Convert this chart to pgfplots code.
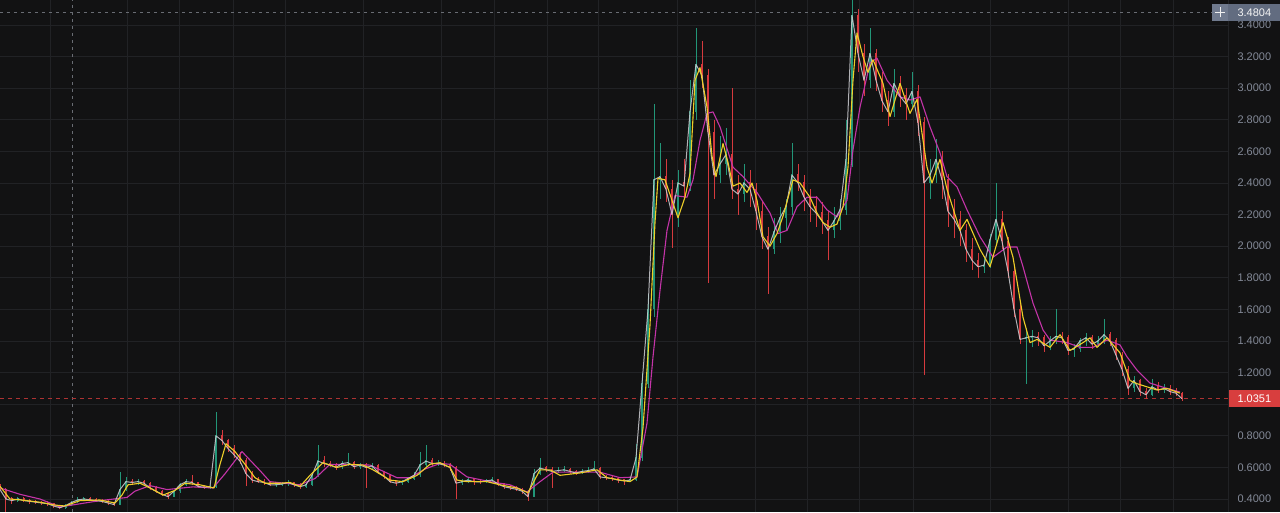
\documentclass[border=0pt]{standalone}
\usepackage{pgfplots}
\pgfplotsset{compat=1.18}
\usepackage{pgfplotstable}
\usepackage{fontspec}
\setmainfont{Liberation Sans}

\definecolor{bgc}{RGB}{18,18,19}
\definecolor{gridc}{RGB}{33,34,37}
\definecolor{upc}{RGB}{34,150,120}
\definecolor{dnc}{RGB}{214,58,62}
\definecolor{ticklab}{RGB}{132,138,152}
\definecolor{maw}{RGB}{205,205,210}
\definecolor{may}{RGB}{238,206,40}
\definecolor{mam}{RGB}{196,52,168}
\definecolor{crossc}{RGB}{105,108,115}
\definecolor{xboxc}{RGB}{98,108,128}
\definecolor{xplusc}{RGB}{112,122,142}
\definecolor{lastc}{RGB}{216,62,62}

% x = pixel column of the candle, o h l c = price
\pgfplotstableread{
x o h l c
0 0.49 0.50 0.45 0.46
6 0.46 0.47 0.32 0.40
12 0.40 0.41 0.37 0.39
18 0.39 0.41 0.38 0.40
24 0.40 0.41 0.38 0.39
30 0.39 0.40 0.37 0.385
36 0.385 0.395 0.37 0.38
42 0.38 0.39 0.365 0.375
48 0.375 0.385 0.355 0.37
54 0.37 0.375 0.345 0.355
60 0.355 0.36 0.335 0.345
66 0.345 0.37 0.34 0.36
72 0.36 0.39 0.355 0.38
78 0.38 0.41 0.375 0.395
84 0.395 0.415 0.385 0.40
90 0.40 0.41 0.385 0.395
96 0.395 0.405 0.38 0.39
102 0.39 0.40 0.375 0.385
108 0.385 0.395 0.365 0.375
114 0.375 0.38 0.355 0.365
120 0.365 0.57 0.36 0.46
126 0.46 0.54 0.45 0.51
132 0.51 0.53 0.49 0.505
138 0.505 0.53 0.49 0.51
144 0.51 0.52 0.485 0.50
150 0.50 0.51 0.46 0.47
156 0.47 0.48 0.44 0.45
162 0.45 0.46 0.42 0.43
168 0.43 0.44 0.40 0.415
174 0.415 0.46 0.41 0.45
180 0.45 0.50 0.44 0.49
186 0.49 0.53 0.48 0.51
192 0.51 0.55 0.49 0.505
198 0.505 0.51 0.47 0.48
204 0.48 0.49 0.465 0.475
210 0.475 0.49 0.465 0.478
216 0.478 0.95 0.47 0.80
222 0.80 0.84 0.74 0.77
228 0.77 0.78 0.70 0.72
234 0.72 0.74 0.66 0.68
240 0.68 0.70 0.62 0.64
246 0.64 0.66 0.48 0.56
252 0.56 0.58 0.50 0.52
258 0.52 0.54 0.50 0.51
264 0.51 0.53 0.49 0.505
270 0.505 0.51 0.48 0.49
276 0.49 0.505 0.475 0.49
282 0.49 0.51 0.48 0.495
288 0.495 0.52 0.485 0.505
294 0.505 0.51 0.475 0.49
300 0.49 0.50 0.465 0.478
306 0.478 0.50 0.47 0.49
312 0.49 0.57 0.485 0.55
318 0.55 0.74 0.54 0.64
324 0.64 0.67 0.60 0.625
330 0.625 0.64 0.60 0.615
336 0.615 0.63 0.585 0.60
342 0.60 0.64 0.59 0.625
348 0.625 0.69 0.61 0.63
354 0.63 0.64 0.59 0.605
360 0.605 0.63 0.59 0.615
366 0.615 0.63 0.47 0.60
372 0.60 0.63 0.59 0.61
378 0.61 0.62 0.56 0.57
384 0.57 0.58 0.53 0.545
390 0.545 0.55 0.50 0.51
396 0.51 0.52 0.485 0.50
402 0.50 0.52 0.49 0.51
408 0.51 0.54 0.50 0.53
414 0.53 0.57 0.52 0.55
420 0.55 0.70 0.54 0.615
426 0.615 0.74 0.60 0.64
432 0.64 0.66 0.61 0.625
438 0.625 0.65 0.61 0.625
444 0.625 0.64 0.60 0.615
450 0.615 0.63 0.58 0.60
456 0.60 0.61 0.40 0.50
462 0.50 0.53 0.49 0.51
468 0.51 0.54 0.50 0.52
474 0.52 0.53 0.49 0.51
480 0.51 0.53 0.495 0.508
486 0.508 0.53 0.50 0.515
492 0.515 0.54 0.505 0.52
498 0.52 0.525 0.48 0.495
504 0.495 0.50 0.465 0.478
510 0.478 0.49 0.46 0.47
516 0.47 0.48 0.45 0.462
522 0.462 0.47 0.435 0.45
528 0.45 0.455 0.39 0.415
534 0.415 0.59 0.41 0.56
540 0.56 0.66 0.55 0.596
546 0.596 0.61 0.57 0.585
552 0.585 0.60 0.47 0.575
558 0.575 0.60 0.565 0.58
564 0.58 0.61 0.57 0.585
570 0.585 0.595 0.56 0.575
576 0.575 0.585 0.555 0.565
582 0.565 0.59 0.56 0.575
588 0.575 0.60 0.565 0.58
594 0.58 0.64 0.575 0.59
600 0.59 0.60 0.53 0.54
606 0.54 0.55 0.52 0.535
612 0.535 0.545 0.515 0.53
618 0.53 0.54 0.50 0.52
624 0.52 0.53 0.49 0.515
630 0.515 0.54 0.505 0.52
636 0.52 0.75 0.515 0.66
642 0.66 1.20 0.64 1.13
648 1.13 1.70 1.10 1.60
654 1.60 2.90 1.55 2.42
660 2.42 2.65 2.30 2.44
666 2.44 2.55 2.28 2.36
672 2.36 2.42 1.99 2.20
678 2.20 2.48 2.12 2.40
684 2.40 2.55 2.30 2.38
690 2.38 3.05 2.35 2.85
696 2.85 3.38 2.80 3.15
702 3.15 3.30 3.00 3.08
708 3.08 3.12 1.77 2.72
714 2.72 2.80 2.30 2.45
720 2.45 2.70 2.40 2.52
726 2.52 2.75 2.45 2.58
732 2.58 3.00 2.30 2.36
738 2.36 2.45 2.20 2.33
744 2.33 2.52 2.28 2.40
750 2.40 2.48 2.25 2.36
756 2.36 2.40 2.10 2.22
762 2.22 2.28 1.98 2.06
768 2.06 2.12 1.70 1.98
774 1.98 2.18 1.95 2.09
780 2.09 2.25 2.02 2.18
786 2.18 2.30 2.10 2.25
792 2.25 2.65 2.20 2.45
798 2.45 2.52 2.35 2.40
804 2.40 2.45 2.22 2.31
810 2.31 2.36 2.15 2.25
816 2.25 2.32 2.12 2.21
822 2.21 2.28 2.08 2.16
828 2.16 2.22 1.91 2.10
834 2.10 2.25 2.05 2.16
840 2.16 2.30 2.10 2.23
846 2.23 2.80 2.20 2.55
852 2.55 3.56 2.50 3.46
858 3.46 3.50 3.10 3.22
864 3.22 3.28 2.95 3.05
870 3.05 3.38 3.00 3.22
876 3.22 3.25 2.98 3.05
882 3.05 3.10 2.85 2.92
888 2.92 2.98 2.76 2.85
894 2.85 3.12 2.82 3.03
900 3.03 3.08 2.88 2.95
906 2.95 3.00 2.80 2.90
912 2.90 3.10 2.88 2.98
918 2.98 3.02 2.70 2.78
924 2.78 2.82 1.185 2.40
930 2.40 2.55 2.30 2.45
936 2.45 2.68 2.40 2.55
942 2.55 2.60 2.30 2.42
948 2.42 2.46 2.12 2.22
954 2.22 2.30 2.05 2.17
960 2.17 2.22 2.00 2.10
966 2.10 2.14 1.90 1.98
972 1.98 2.05 1.85 1.91
978 1.91 1.96 1.80 1.87
984 1.87 1.94 1.83 1.88
990 1.88 2.08 1.86 2.04
996 2.04 2.40 2.00 2.17
1002 2.17 2.22 1.98 2.03
1008 2.03 2.06 1.80 1.84
1014 1.84 1.88 1.55 1.60
1020 1.60 1.65 1.38 1.41
1026 1.41 1.48 1.13 1.42
1032 1.42 1.47 1.36 1.43
1038 1.43 1.46 1.37 1.42
1044 1.42 1.44 1.33 1.37
1050 1.37 1.43 1.34 1.40
1056 1.40 1.60 1.38 1.43
1062 1.43 1.46 1.38 1.42
1068 1.42 1.44 1.31 1.34
1074 1.34 1.38 1.30 1.35
1080 1.35 1.42 1.33 1.40
1086 1.40 1.45 1.37 1.42
1092 1.42 1.44 1.35 1.38
1098 1.38 1.43 1.36 1.40
1104 1.40 1.54 1.38 1.44
1110 1.44 1.46 1.37 1.40
1116 1.40 1.42 1.28 1.31
1122 1.31 1.33 1.18 1.22
1128 1.22 1.24 1.06 1.10
1134 1.10 1.18 1.08 1.15
1140 1.15 1.16 1.05 1.08
1146 1.08 1.10 1.03 1.06
1152 1.06 1.16 1.05 1.11
1158 1.11 1.14 1.07 1.09
1164 1.09 1.13 1.07 1.10
1170 1.10 1.12 1.06 1.08
1176 1.08 1.10 1.05 1.07
1182 1.07 1.08 1.02 1.035
}\candles

\begin{document}
\begin{tikzpicture}
\fill[bgc] (0,0) rectangle (1280pt,512pt);
\begin{axis}[
  at={(0,0)}, anchor=south west,
  scale only axis, width=1228pt, height=512pt,
  xmin=0, xmax=1228, ymin=0.318, ymax=3.558,
  axis line style={draw=none},
  xtick={50,127,179,233,285,363,441,494,547,598,677,755,807,859,913,990,1068,1120,1173},
  xticklabels={},
  ytick={0.4,0.6,0.8,1.0,1.2,1.4,1.6,1.8,2.0,2.2,2.4,2.6,2.8,3.0,3.2,3.4},
  yticklabels={0.4000,0.6000,0.8000,,1.2000,1.4000,1.6000,1.8000,2.0000,2.2000,2.4000,2.6000,2.8000,3.0000,3.2000,3.4000},
  yticklabel pos=right,
  major tick length=0pt,
  grid=major, grid style={gridc, line width=0.8pt},
  yticklabel style={anchor=west, xshift=6pt, text=ticklab,
    font=\fontsize{11}{13}\selectfont},
  candle/.style={only marks, mark=*, mark size=0pt,
    mark options={draw=none, fill=none}, forget plot},
]
% crosshair and last price line
\draw[crossc, line width=0.8pt, dash pattern=on 3pt off 4pt] (axis cs:0,3.4804) -- (axis cs:1228,3.4804);
\draw[crossc, line width=0.8pt, dash pattern=on 3pt off 4pt] (axis cs:72,0.318) -- (axis cs:72,3.558);
\draw[lastc!80!black, line width=0.9pt, dash pattern=on 4pt off 4pt] (axis cs:0,1.0351) -- (axis cs:1228,1.0351);

% wicks
\addplot[candle,
  x filter/.expression={\thisrow{c}>=\thisrow{o} ? x : nan},
  error bars/.cd, y dir=plus, y explicit, error mark=none,
  error bar style={draw=upc, line width=1pt}]
  table[x=x, y=l, y error plus expr=\thisrow{h}-\thisrow{l}]{\candles};
\addplot[candle,
  x filter/.expression={\thisrow{c}<\thisrow{o} ? x : nan},
  error bars/.cd, y dir=plus, y explicit, error mark=none,
  error bar style={draw=dnc, line width=1pt}]
  table[x=x, y=l, y error plus expr=\thisrow{h}-\thisrow{l}]{\candles};
% bodies
\addplot[candle,
  x filter/.expression={\thisrow{c}>=\thisrow{o} ? x : nan},
  error bars/.cd, y dir=plus, y explicit, error mark=none,
  error bar style={draw=upc, line width=2.6pt}]
  table[x=x, y=o, y error plus expr=\thisrow{c}-\thisrow{o}+0.004]{\candles};
\addplot[candle,
  x filter/.expression={\thisrow{c}<\thisrow{o} ? x : nan},
  error bars/.cd, y dir=plus, y explicit, error mark=none,
  error bar style={draw=dnc, line width=2.6pt}]
  table[x=x, y=c, y error plus expr=\thisrow{o}-\thisrow{c}+0.004]{\candles};

% moving averages
\addplot[mam, line width=1.1pt, line join=round] coordinates {
(0,0.47)(20,0.43)(40,0.40)(60,0.35)(100,0.39)(127,0.41)(135,0.45)(150,0.485)
(167,0.46)(193,0.477)(213,0.47)(225,0.56)(242,0.70)(260,0.58)(270,0.51)(300,0.49)
(315,0.53)(330,0.62)(370,0.615)(380,0.585)(397,0.535)(410,0.535)(425,0.59)(440,0.625)
(450,0.62)(467,0.54)(490,0.51)(510,0.49)(527,0.445)(540,0.51)(553,0.57)(600,0.57)
(620,0.535)(637,0.54)(647,0.88)(653,1.30)(660,1.72)(667,2.10)(675,2.32)(687,2.31)
(693,2.42)(700,2.67)(707,2.84)(713,2.85)(720,2.755)(733,2.50)(743,2.44)(757,2.34)
(770,2.21)(778,2.08)(787,2.10)(797,2.25)(807,2.31)(817,2.31)(827,2.23)(837,2.185)
(847,2.29)(853,2.61)(860,2.88)(870,3.16)(877,3.19)(887,3.05)(900,2.945)(910,2.925)
(920,2.945)(930,2.755)(940,2.59)(947,2.44)(957,2.375)(967,2.23)(980,2.06)(993,1.93)
(1007,1.995)(1017,1.995)(1023,1.87)(1033,1.64)(1043,1.47)(1050,1.406)(1067,1.39)
(1080,1.36)(1093,1.36)(1107,1.406)(1120,1.375)(1127,1.30)(1137,1.216)(1150,1.134)
(1167,1.10)(1180,1.077)};
\addplot[maw, opacity=0.85, line width=1pt, line join=round] table[x=x, y=c]{\candles};
\addplot[may, line width=1.1pt, line join=round] coordinates {
(0,0.48)(10,0.40)(20,0.395)(40,0.38)(55,0.362)(65,0.356)(80,0.39)(100,0.394)
(115,0.375)(122,0.425)(128,0.49)(140,0.50)(150,0.47)(163,0.425)(175,0.455)(185,0.50)
(200,0.49)(214,0.47)(220,0.62)(226,0.75)(235,0.70)(245,0.62)(255,0.535)(265,0.50)
(280,0.50)(290,0.505)(300,0.48)(310,0.55)(323,0.63)(337,0.60)(350,0.62)(363,0.615)
(373,0.585)(390,0.52)(403,0.51)(417,0.55)(430,0.62)(440,0.63)(450,0.60)(457,0.52)
(467,0.51)(487,0.51)(500,0.49)(517,0.47)(528,0.44)(540,0.585)(550,0.585)(560,0.55)
(580,0.565)(597,0.585)(607,0.535)(620,0.52)(630,0.51)(637,0.54)(643,0.85)(650,1.50)
(655,2.15)(658,2.43)(665,2.42)(672,2.29)(678,2.18)(685,2.31)(690,2.46)(695,3.05)
(700,3.13)(707,2.88)(712,2.57)(716,2.44)(723,2.65)(728,2.53)(733,2.38)(740,2.40)
(747,2.34)(752,2.40)(757,2.29)(763,2.06)(770,2.00)(777,2.08)(783,2.19)(793,2.42)
(800,2.40)(810,2.31)(817,2.21)(823,2.15)(830,2.12)(837,2.14)(843,2.25)(848,2.50)
(853,3.05)(857,3.35)(863,3.20)(868,3.10)(873,3.18)(883,3.03)(890,2.82)(900,3.03)
(910,2.84)(917,2.93)(927,2.50)(932,2.40)(940,2.55)(947,2.36)(960,2.10)(967,2.17)
(980,1.98)(990,1.87)(1003,2.15)(1013,1.93)(1023,1.55)(1030,1.39)(1037,1.41)(1050,1.36)
(1060,1.44)(1070,1.34)(1083,1.39)(1090,1.42)(1097,1.36)(1107,1.42)(1120,1.325)
(1130,1.15)(1137,1.13)(1147,1.11)(1157,1.09)(1167,1.10)(1180,1.07)};

\coordinate (cross) at (axis cs:1228,3.4804);
\coordinate (last) at (axis cs:1228,1.0351);
\coordinate (rb) at (axis cs:1228,0.318);
\coordinate (rt) at (axis cs:1228,3.558);
\end{axis}
\draw[gridc, line width=0.8pt] (rb) -- (rt);
% crosshair price tag
\fill[xplusc] ([xshift=-16pt,yshift=-8.5pt]cross) rectangle ([yshift=8.5pt]cross);
\fill[xboxc] ([yshift=-8.5pt]cross) rectangle ([xshift=52pt,yshift=8.5pt]cross);
\draw[white!88!gray, line width=0.9pt] ([xshift=-8pt,yshift=-5pt]cross) -- ([xshift=-8pt,yshift=5pt]cross);
\draw[white!88!gray, line width=0.9pt] ([xshift=-13pt]cross) -- ([xshift=-3pt]cross);
\node[anchor=west, text=white!92!gray, font=\fontsize{11}{13}\selectfont] at ([xshift=6pt]cross) {3.4804};
% last price tag
\fill[lastc] ([xshift=1pt,yshift=-8.5pt]last) rectangle ([xshift=52pt,yshift=8.5pt]last);
\node[anchor=west, text=white, font=\fontsize{11}{13}\selectfont] at ([xshift=6pt]last) {1.0351};
\pgfresetboundingbox
\path[use as bounding box] (0,0) rectangle (1280pt,512pt);
\end{tikzpicture}
\end{document}
